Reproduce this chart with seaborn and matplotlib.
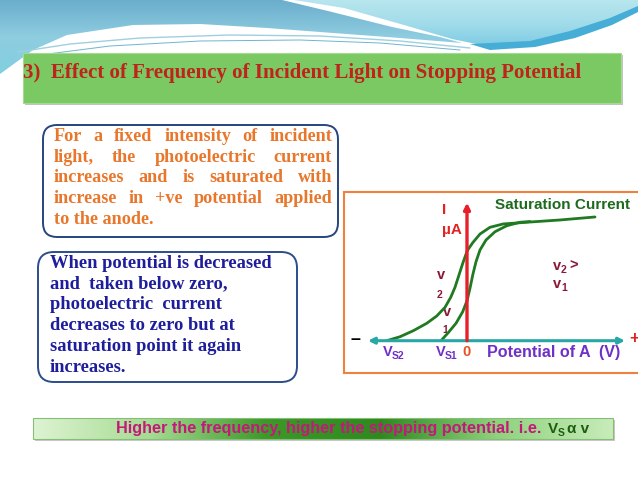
import numpy as np
import pandas as pd
import matplotlib
matplotlib.use("Agg")
import matplotlib.pyplot as plt
from matplotlib.patches import Polygon, FancyBboxPatch, Rectangle
from matplotlib.colors import LinearSegmentedColormap
import seaborn as sns

# curves: potential of A (V) vs photo current (uA)
v2_volts = [-3.21, -2.68, -2.15, -1.61, -1.21, -0.88, -0.65, -0.48, -0.32, -0.17, 0.01,
            0.23, 0.52, 0.92, 1.45, 2.12, 2.52, 3.72, 5.12]
v2_current = [0.0, 0.33, 0.83, 1.45, 2.06, 2.78, 3.62, 4.45, 5.48, 6.45, 7.5,
              8.17, 8.89, 9.45, 9.73, 9.83, 9.89, 10.06, 10.31]
v1_volts = [-1.04, -0.75, -0.44, -0.17, 0.01, 0.12, 0.23, 0.36, 0.52, 0.76, 1.12, 1.59, 2.12, 2.52]
v1_current = [0.0, 0.67, 1.45, 2.42, 3.39, 4.37, 5.48, 6.58, 7.56, 8.39, 9.08, 9.58, 9.87, 9.93]
curve_names = ["v2", "v1"]

title = "3)  Effect of Frequency of Incident Light on Stopping Potential"
box1_lines = ["For a fixed intensity of incident",
              "light,  the photoelectric current",
              "increases and is saturated with",
              "increase in +ve  potential applied",
              "to the anode."]
box2_lines = ["When potential is decreased",
              "and  taken below zero,",
              "photoelectric  current",
              "decreases to zero but at",
              "saturation point it again",
              "increases."]
banner = "Higher the frequency, higher the stopping potential. i.e."

sns.set_theme(style="white")
plt.rcParams["font.family"] = ["Liberation Sans", "DejaVu Sans"]

W, H = 638, 493
fig = plt.figure(figsize=(W / 100, H / 100), dpi=100)
fig.patch.set_facecolor("white")

# background axes in pixel units for the slide decoration
bg = fig.add_axes([0, 0, 1, 1])
bg.set_xlim(0, W)
bg.set_ylim(H, 0)
bg.axis("off")
R = fig.canvas.get_renderer()


def grad_fill(patch, colors, extent, horizontal=False):
    bg.add_patch(patch)
    patch.set_facecolor("none")
    patch.set_edgecolor("none")
    cm = LinearSegmentedColormap.from_list("g", colors)
    g = np.linspace(0, 1, 256)
    img = g[None, :] if horizontal else g[:, None]
    im = bg.imshow(img, cmap=cm, extent=extent, aspect="auto", zorder=patch.get_zorder())
    im.set_clip_path(patch)
    return im


def fit(t, width):
    w = t.get_window_extent(R).width
    t.set_fontsize(t.get_fontsize() * width / w)
    return t


# top swoosh
left_blue = Polygon([(0, 0), (282, 0), (332, 12), (392, 27), (440, 37), (462, 43),
                     (400, 38), (320, 32), (267, 28), (200, 24), (133, 25), (67, 35),
                     (33, 50), (0, 74)], closed=True, zorder=1)
grad_fill(left_blue, ["#6AAECD", "#8FCDE0", "#7FD0E0"], (0, 470, 75, 0))
right_cyan = Polygon([(294, 0), (638, 0), (638, 8), (610, 20), (570, 33), (530, 42),
                      (486, 46), (452, 39), (404, 25), (344, 8)], closed=True, zorder=1)
grad_fill(right_cyan, ["#B8E6EE", "#A2DCEA", "#7CCBE3"], (294, 638, 47, 0))
band = Polygon([(470, 44), (530, 41), (570, 31), (610, 18), (638, 6), (638, 12),
                (612, 25), (575, 38), (535, 47), (490, 50)], closed=True,
               facecolor="#45ADD6", edgecolor="none", zorder=2)
bg.add_patch(band)
bg.plot([18, 70, 140, 230, 320, 400, 470], [52, 44, 38, 35, 36, 41, 48], color="#9FD0E0", lw=1, zorder=2)
bg.plot([40, 110, 200, 300, 380, 460], [55, 46, 41, 40, 43, 50], color="#6CB6D2", lw=0.7, zorder=2)

# title bar
bg.add_patch(Rectangle((25, 55), 598, 50, facecolor="#9A9A9A", alpha=0.6, edgecolor="none", zorder=3))
bg.add_patch(Rectangle((23, 53), 598, 50, facecolor="#7BC962", edgecolor="#A6DA92", lw=0.8, zorder=4))
t = bg.text(23, 78, title, family=["Liberation Serif", "DejaVu Serif"], weight="bold",
            color="#C0221C", fontsize=14, va="baseline", ha="left", zorder=5)
fit(t, 560)

serif = ["Liberation Serif", "DejaVu Serif"]
box_fs = 13.1

# orange text box (justified)
bg.add_patch(FancyBboxPatch((43, 125), 295, 112, boxstyle="round,pad=0,rounding_size=14",
                            facecolor="white", edgecolor="#27457F", lw=1.4, zorder=3))
for i, line in enumerate(box1_lines):
    y = 140.7 + i * 20.8
    if i == len(box1_lines) - 1:
        bg.text(54, y, line, family=serif, weight="bold", fontsize=box_fs, color="#E8772C",
                va="baseline", zorder=5)
        continue
    words = line.split()
    ts = [bg.text(0, y, w_, family=serif, weight="bold", fontsize=box_fs, color="#E8772C",
                  va="baseline", zorder=5) for w_ in words]
    ws = [t_.get_window_extent(R).width for t_ in ts]
    gap = (332 - 54 - sum(ws)) / (len(words) - 1)
    x = 54
    for t_, w_ in zip(ts, ws):
        t_.set_x(x)
        x += w_ + gap

# blue text box
bg.add_patch(FancyBboxPatch((38, 252), 259, 130, boxstyle="round,pad=0,rounding_size=16",
                            facecolor="white", edgecolor="#2C4C8C", lw=1.4, zorder=3))
for i, line in enumerate(box2_lines):
    bg.text(50, 267.7 + i * 20.8, line, family=serif, weight="bold", fontsize=13.3,
            color="#1E1E9C", va="baseline", zorder=5)

# chart frame
bg.add_patch(Rectangle((344, 192), 310, 181, facecolor="white", edgecolor="#F0803C", lw=1.5, zorder=3))

# chart axes: pixel origin of (0 V, 0 uA) and pixels per unit
X0_PX, Y0_PX, PX_V, PX_I = 467, 340.7, 25, 12
CL, CR, CT, CB = 345, 638, 193, 372
ax = fig.add_axes([CL / W, 1 - CB / H, (CR - CL) / W, (CB - CT) / H])
ax.set_xlim((CL - X0_PX) / PX_V, (CR - X0_PX) / PX_V)
ax.set_ylim((Y0_PX - CB) / PX_I, (Y0_PX - CT) / PX_I)
ax.patch.set_alpha(0)
ax.axis("off")

df = pd.concat([
    pd.DataFrame({"V": v2_volts, "I": v2_current, "curve": curve_names[0]}),
    pd.DataFrame({"V": v1_volts, "I": v1_current, "curve": curve_names[1]}),
])
green = "#1F7A22"
sns.lineplot(data=df, x="V", y="I", hue="curve", palette={n: green for n in curve_names},
             sort=False, estimator=None, legend=False, lw=2, ax=ax)
for ln in ax.get_lines():
    ln.set_solid_joinstyle("round")

x_axis_span = (-3.96, 6.32)
i_axis_top = 11.5
ax.annotate("", xy=(x_axis_span[1], 0), xytext=(x_axis_span[0], 0),
            arrowprops=dict(arrowstyle="<|-|>", color="#27A7A6", lw=2.2, mutation_scale=9,
                            shrinkA=0, shrinkB=0), zorder=4)
ax.annotate("", xy=(0, i_axis_top), xytext=(0, 0),
            arrowprops=dict(arrowstyle="-|>", color="#E81E2A", lw=2.4, mutation_scale=9,
                            shrinkA=0, shrinkB=0), zorder=5)

# chart labels (pixel coordinates on bg)
sb = dict(weight="bold", zorder=6)
fit(bg.text(495, 205, "Saturation Current", color="#1E6B1E", va="center", fontsize=10, **sb), 135)
bg.text(442, 210, "I", color="#E02424", va="center", fontsize=11, **sb)
bg.text(442, 230, "µA", color="#E02424", va="center", fontsize=11, **sb)
maroon = "#8A1838"
bg.text(553, 266, "v", color=maroon, va="center", fontsize=10.5, **sb)
bg.text(561, 270, "2", color=maroon, va="center", fontsize=7.5, **sb)
bg.text(569, 266, ">", color=maroon, va="center", fontsize=10.5, **sb)
bg.text(553, 284, "v", color=maroon, va="center", fontsize=10.5, **sb)
bg.text(561, 288, "1", color=maroon, va="center", fontsize=7.5, **sb)
bg.text(437, 275, "v", color=maroon, va="center", fontsize=10.5, **sb)
bg.text(437, 295, "2", color=maroon, va="center", fontsize=7.5, **sb)
bg.text(443, 312, "v", color=maroon, va="center", fontsize=10.5, **sb)
bg.text(442, 330, "1", color=maroon, va="center", fontsize=7.5, **sb)
bg.text(355, 339, "–", color="black", ha="center", va="center", fontsize=13, **sb)
bg.text(629, 339, "+", color="#E02424", ha="left", va="center", fontsize=12, **sb)
purple = "#7030C8"
bg.text(383, 352, "V", color=purple, va="center", fontsize=10.5, **sb)
bg.text(392, 356, "S2", color=purple, va="center", fontsize=7.5, **sb)
bg.text(436, 352, "V", color=purple, va="center", fontsize=10.5, **sb)
bg.text(445, 356, "S1", color=purple, va="center", fontsize=7.5, **sb)
bg.text(462, 352, "0", color="#E85020", va="center", fontsize=10.5, **sb)
fit(bg.text(487, 352, "Potential of A  (V)", color=purple, va="center", fontsize=10, **sb), 133)

# bottom banner
bg.add_patch(Rectangle((35, 420), 580, 21, facecolor="#9C9C9C", alpha=0.55, edgecolor="none", zorder=3))
bn = Rectangle((33, 418), 580, 21, zorder=4)
grad_fill(bn, ["#DDF3D2", "#A6DC92", "#3C9A28", "#2E8A1E", "#8ED27C", "#C8ECBA"],
          (33, 613, 439, 418), horizontal=True)
bg.add_patch(Rectangle((33, 418), 580, 21, facecolor="none", edgecolor="#86BE78", lw=0.8, zorder=5))
fit(bg.text(116, 429, banner, color="#C4187C", va="center", fontsize=10, **sb), 426)
dg = "#1E5C12"
bg.text(548, 429, "V", color=dg, va="center", fontsize=11, **sb)
bg.text(558, 433, "S", color=dg, va="center", fontsize=7.5, **sb)
bg.text(567, 429, "α v", color=dg, va="center", fontsize=11, **sb)

fig.savefig("out.png", dpi=100)
